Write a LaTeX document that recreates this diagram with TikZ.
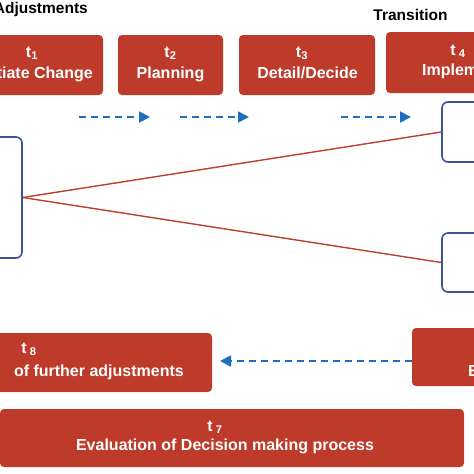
\documentclass[tikz,border=0pt]{standalone}
\usepackage{fontspec}
\setmainfont{Liberation Sans}
\usetikzlibrary{arrows.meta}
\definecolor{boxred}{RGB}{190,58,42}
\definecolor{lineblue}{RGB}{62,82,150}
\definecolor{arrowblue}{RGB}{30,110,190}
\definecolor{linered}{RGB}{190,62,45}
\tikzset{
  redbox/.style={fill=boxred, draw=none, rounded corners=4pt, inner sep=0pt},
  bluebox/.style={draw=lineblue, line width=1.6pt, fill=white, rounded corners=6pt, inner sep=0pt},
  wlabel/.style={text=white, font=\bfseries\fontsize{16}{18}\selectfont, inner sep=0pt},
  blabel/.style={text=black, font=\bfseries\fontsize{15.5}{18}\selectfont, inner sep=0pt},
  dasharrow/.style={draw=arrowblue, line width=1.8pt, dash pattern=on 7pt off 5pt, -{Triangle[length=11pt,width=11pt]}},
  redline/.style={draw=linered, line width=1.4pt}
}
\begin{document}
\begin{tikzpicture}[x=1pt,y=-1pt]
\useasboundingbox (0,0) rectangle (474,474);
\clip (0,0) rectangle (474,474);
% top row of red boxes
\node[redbox, minimum width=163pt, minimum height=60pt] (t1) at (21.5,65) {};
\node[redbox, minimum width=105pt, minimum height=60pt] (t2) at (170.5,65) {};
\node[redbox, minimum width=136pt, minimum height=60pt] (t3) at (307,65) {};
\node[redbox, minimum width=154pt, minimum height=61pt] (t4) at (463,62.5) {};
% blue boxes
\node[bluebox, minimum width=62pt, minimum height=121pt] (lb) at (-9,197.5) {};
\node[bluebox, minimum width=78pt, minimum height=60pt] (rt) at (481,132) {};
\node[bluebox, minimum width=78pt, minimum height=59pt] (rb) at (481,262.5) {};
% bottom red boxes
\node[redbox, minimum width=372pt, minimum height=59pt] (t8) at (26,362.5) {};
\node[redbox, minimum width=128pt, minimum height=58pt] (t5) at (476,357) {};
\node[redbox, minimum width=464pt, minimum height=58pt] (t7) at (232,438) {};
% headings
\node[blabel, anchor=base east] (hadj) at (88,13) {Adjustments};
\node[blabel, anchor=base] (htr) at (410.5,20.5) {Transition};
% labels
\node[wlabel, anchor=base] (l1a) at (32,57) {t\textsubscript{1}};
\node[wlabel, anchor=base east] (l1b) at (93,78) {tiate Change};
\node[wlabel, anchor=base] (l2a) at (170.5,57) {t\textsubscript{2}};
\node[wlabel, anchor=base] (l2b) at (170.5,78) {Planning};
\node[wlabel, anchor=base] (l3a) at (302,57) {t\textsubscript{3}};
\node[wlabel, anchor=base] (l3b) at (307.5,78) {Detail/Decide};
\node[wlabel, anchor=base] (l4a) at (458,55) {t\kern3pt\textsubscript{4}};
\node[wlabel, anchor=base west] (l4b) at (422,75) {Implem};
\node[wlabel, anchor=base] (l8a) at (29,353) {t\kern3pt\textsubscript{8}};
\node[wlabel, anchor=base east] (l8b) at (184,376) {of further adjustments};
\node[wlabel, anchor=base west] (l5b) at (468,376) {E};
\node[wlabel, anchor=base] (l7a) at (215,431) {t\kern3pt\textsubscript{7}};
\node[wlabel, anchor=base] (l7b) at (225,450) {Evaluation of Decision making process};
% red connectors
\draw[redline] (lb.east) -- (rt.west);
\draw[redline] (lb.east) -- (rb.west);
% dashed arrows
\coordinate (a1s) at (79,117);
\coordinate (a1e) at (150,117);
\coordinate (a2s) at (180,117);
\coordinate (a2e) at (249,117);
\coordinate (a3s) at (341,117);
\coordinate (a3e) at (411,117);
\coordinate (a4s) at (412,361);
\coordinate (a4e) at (220,361);
\draw[dasharrow] (a1s) -- (a1e);
\draw[dasharrow] (a2s) -- (a2e);
\draw[dasharrow] (a3s) -- (a3e);
\draw[dasharrow] (a4s) -- (a4e);
\end{tikzpicture}
\end{document}
